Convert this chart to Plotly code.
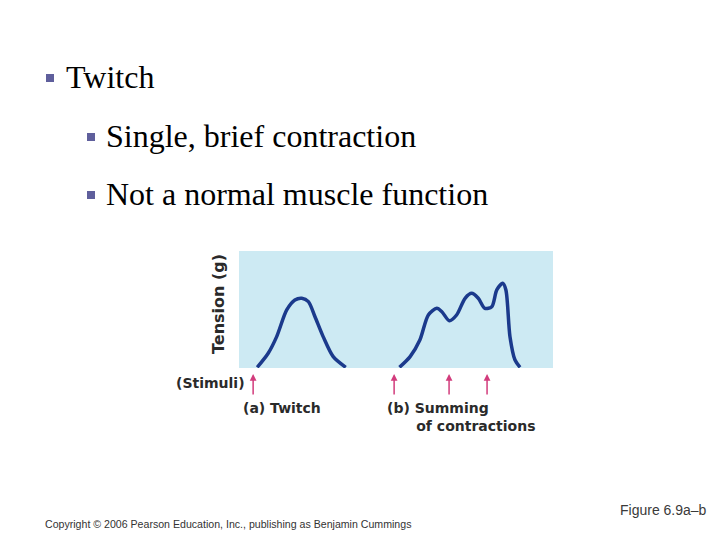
import plotly.graph_objects as go

# ---- data (time in arbitrary units, tension in % of plot height) ----
twitch_t = [5.8, 9.3, 12.0, 15.2, 17.8, 20.0, 22.1, 24.2, 26.8, 30.0, 34.0]
twitch_tension = [0.6, 12.6, 26.8, 49.6, 58.1, 59.6, 56.7, 43.8, 26.8, 9.7, 0.6]

sum_t = [51.1, 54.5, 57.6, 60.3, 63.0, 64.6, 67.0, 69.3, 72.0, 74.1, 76.2,
         78.3, 80.5, 82.1, 84.0, 85.0, 86.3, 87.9, 89.5]
sum_tension = [0.6, 9.7, 23.9, 45.3, 51.0, 48.1, 40.4, 45.3, 59.6, 63.8, 59.6,
               51.0, 52.4, 66.7, 72.4, 66.7, 26.8, 6.8, 0.6]

stimuli_t = [4.5, 49.4, 66.9, 79.0]

bullets = [("Twitch", 1), ("Single, brief contraction", 2), ("Not a normal muscle function", 2)]

# ---- layout helpers (pixel -> paper) ----
W, H = 720, 540
L, R, T, B = 239, 553, 251, 368


def px(x):
    return (x - L) / (R - L)


def py(y):
    return (B - y) / (B - T)


LINE = "#1b3a8c"
ARROW = "#d23c7c"

fig = go.Figure()
fig.add_trace(go.Scatter(x=twitch_t, y=twitch_tension, mode="lines",
                         line=dict(color=LINE, width=3.5, shape="spline", smoothing=0.8),
                         cliponaxis=False, hoverinfo="skip"))
fig.add_trace(go.Scatter(x=sum_t, y=sum_tension, mode="lines",
                         line=dict(color=LINE, width=3.5, shape="spline", smoothing=0.8),
                         cliponaxis=False, hoverinfo="skip"))

annotations = []
for s in stimuli_t:
    annotations.append(dict(x=s, y=py(374), xref="x", yref="paper", axref="pixel", ayref="pixel",
                            ax=0, ay=22, text="", showarrow=True, arrowhead=2, arrowsize=0.9,
                            arrowwidth=1.5, arrowcolor=ARROW))

SANS = "DejaVu Sans"
TXT = "#2a2a2a"
annotations += [
    dict(x=px(218), y=py(304), xref="paper", yref="paper", text="<b>Tension (g)</b>",
         textangle=-90, showarrow=False, font=dict(family=SANS, size=16, color=TXT),
         xanchor="center", yanchor="middle"),
    dict(x=px(247), y=py(383), xref="paper", yref="paper", text="<b>(Stimuli)</b>",
         showarrow=False, font=dict(family=SANS, size=14, color=TXT),
         xanchor="right", yanchor="middle"),
    dict(x=px(241), y=py(408), xref="paper", yref="paper", text="<b>(a) Twitch</b>",
         showarrow=False, font=dict(family=SANS, size=14, color=TXT),
         xanchor="left", yanchor="middle"),
    dict(x=px(385), y=py(417), xref="paper", yref="paper",
         text="<b>(b) Summing<br>      of contractions</b>",
         showarrow=False, font=dict(family=SANS, size=14, color=TXT), align="left",
         xanchor="left", yanchor="middle"),
    dict(x=px(43), y=py(524), xref="paper", yref="paper",
         text="Copyright © 2006 Pearson Education, Inc., publishing as Benjamin Cummings",
         showarrow=False, font=dict(family="Liberation Sans", size=10.6, color="#333333"),
         xanchor="left", yanchor="middle"),
    dict(x=px(709), y=py(510), xref="paper", yref="paper", text="Figure 6.9a–b",
         showarrow=False, font=dict(family="Liberation Sans", size=14, color="#3a3a3a"),
         xanchor="right", yanchor="middle"),
]

shapes = []
bullet_y = [77, 136, 194]
for (txt, lvl), yc in zip(bullets, bullet_y):
    bx = 46 if lvl == 1 else 87
    tx = 64 if lvl == 1 else 104
    shapes.append(dict(type="rect", xref="paper", yref="paper",
                       x0=px(bx), x1=px(bx + 8), y0=py(yc - 3), y1=py(yc + 5),
                       fillcolor="#5f5f9c", line=dict(width=0)))
    annotations.append(dict(x=px(tx), y=py(yc), xref="paper", yref="paper", text=txt,
                            showarrow=False,
                            font=dict(family="Liberation Serif", size=32, color="#000000"),
                            xanchor="left", yanchor="middle"))

fig.update_layout(
    width=W, height=H,
    margin=dict(l=L, r=W - R, t=T, b=H - B, pad=0),
    paper_bgcolor="white", plot_bgcolor="#cdeaf3",
    showlegend=False,
    xaxis=dict(range=[0, 100], visible=False, fixedrange=True),
    yaxis=dict(range=[0, 100], visible=False, fixedrange=True),
    annotations=annotations, shapes=shapes,
)

fig.write_html("out.html")
